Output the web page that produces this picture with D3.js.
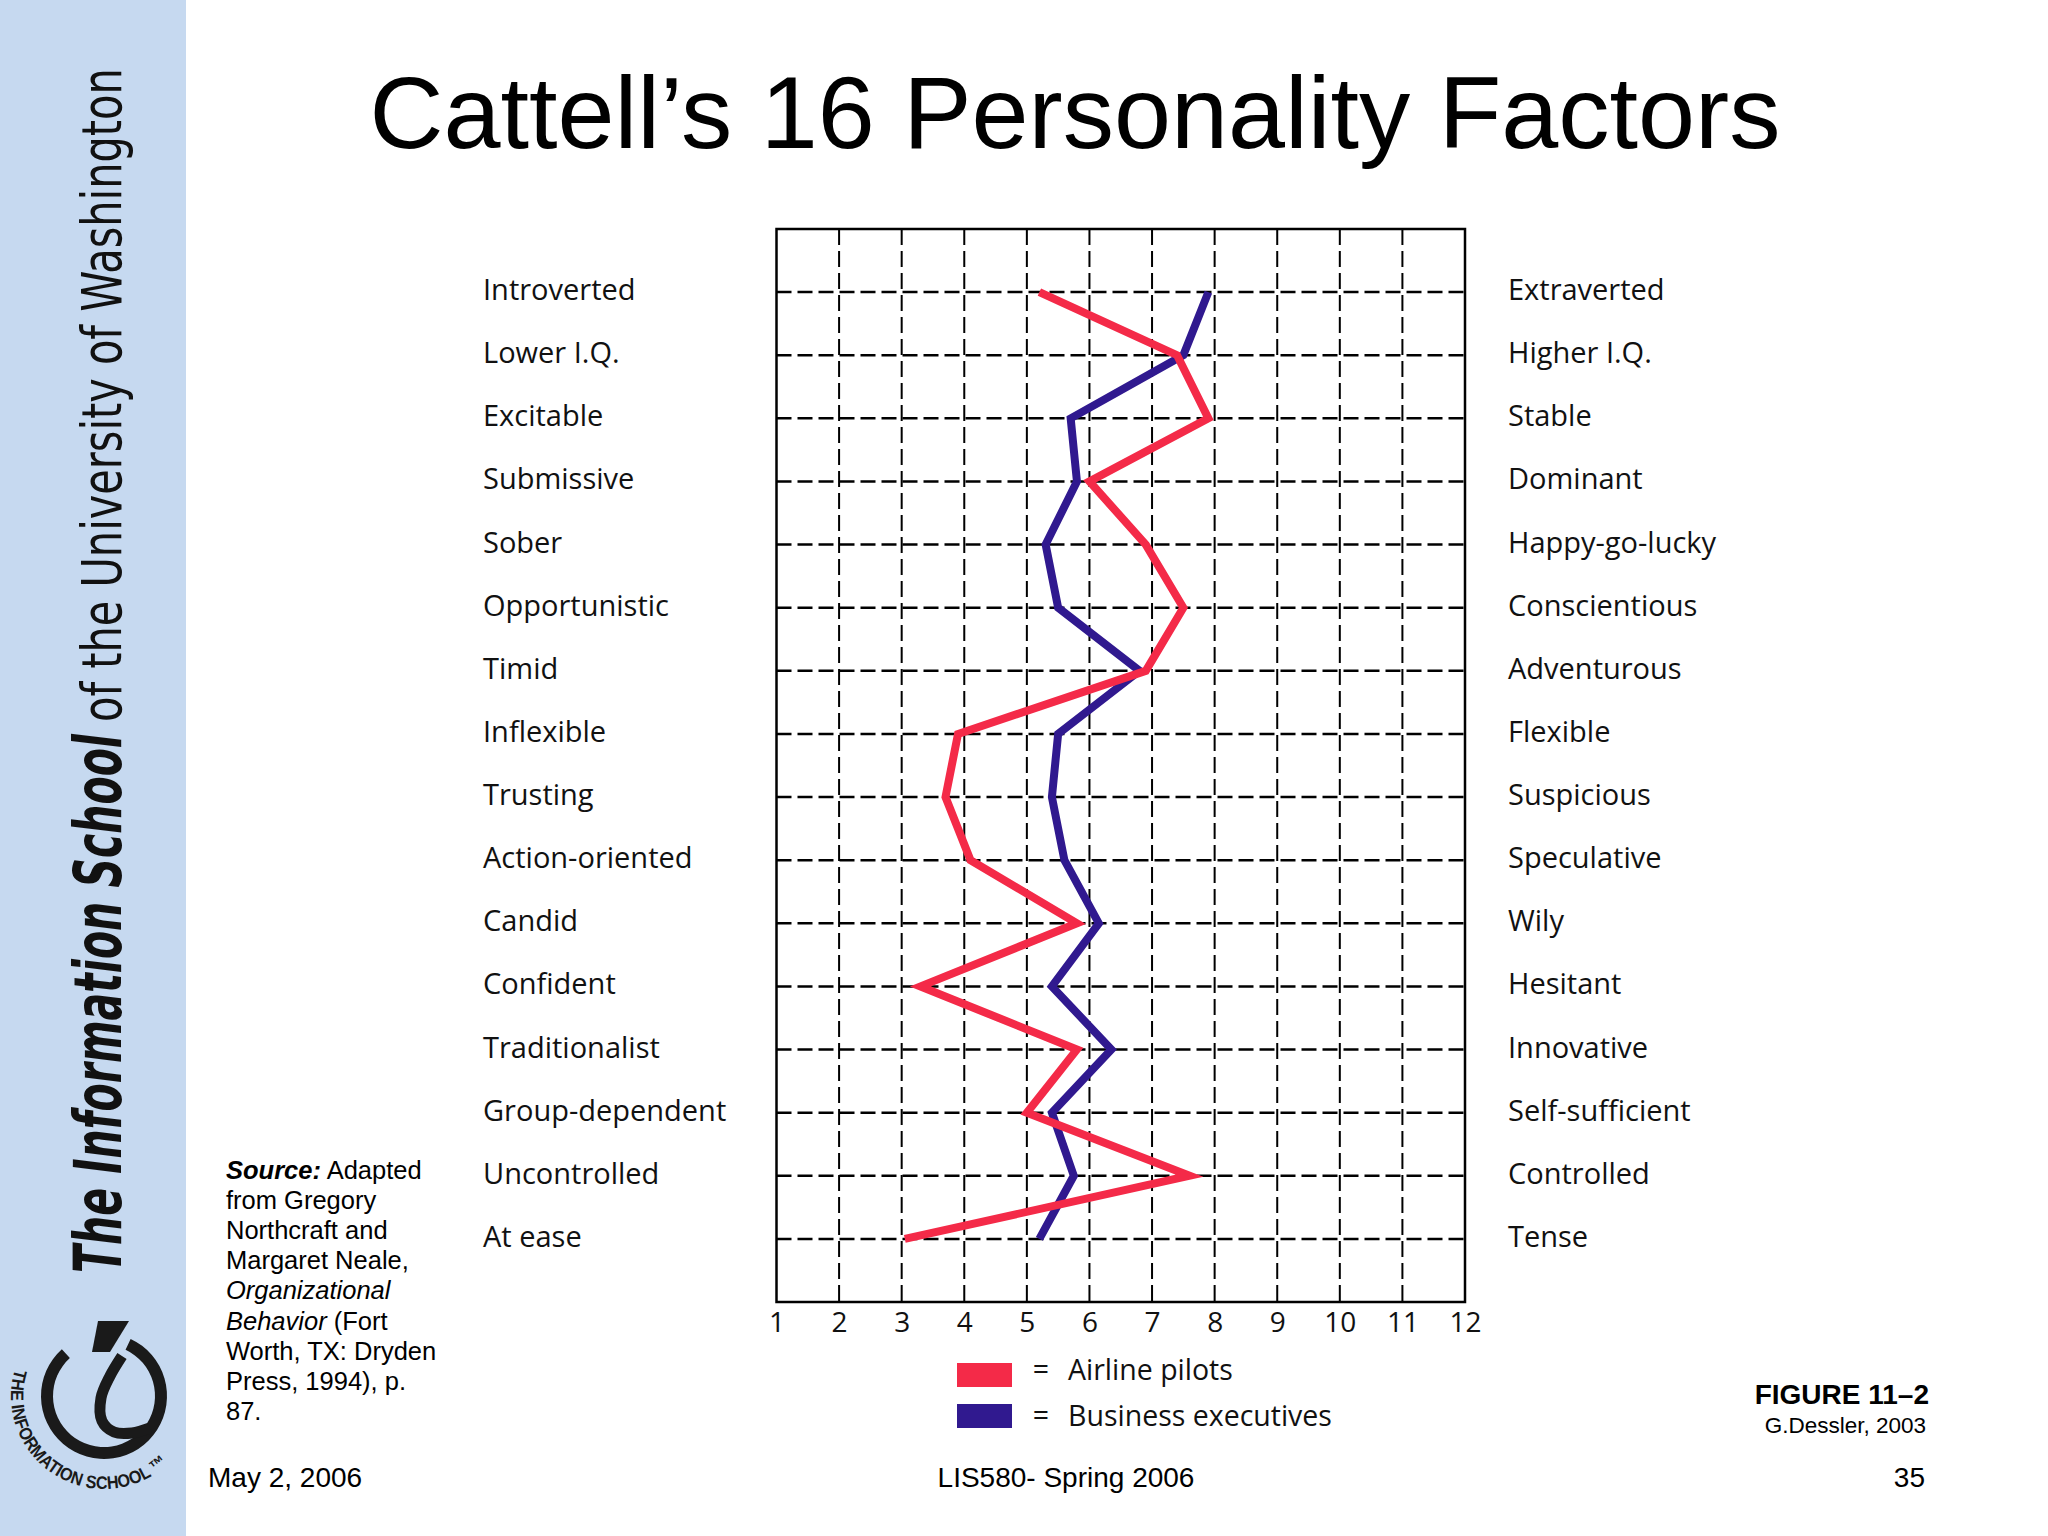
<!DOCTYPE html>
<html>
<head>
<meta charset="utf-8">
<script src="https://cdn.jsdelivr.net/npm/d3@7"></script>
<style>
  html, body { margin: 0; padding: 0; background: #ffffff; }
  svg { display: block; }
</style>
</head>
<body>
<script>
// ---------------- data ----------------
const leftLabels = ["Introverted","Lower I.Q.","Excitable","Submissive","Sober","Opportunistic","Timid","Inflexible","Trusting","Action-oriented","Candid","Confident","Traditionalist","Group-dependent","Uncontrolled","At ease"];
const rightLabels = ["Extraverted","Higher I.Q.","Stable","Dominant","Happy-go-lucky","Conscientious","Adventurous","Flexible","Suspicious","Speculative","Wily","Hesitant","Innovative","Self-sufficient","Controlled","Tense"];
const airlinePilots      = [5.2, 7.4, 7.9, 6.0, 6.9, 7.5, 6.9, 3.9, 3.7, 4.1, 5.8, 3.3, 5.8, 5.0, 7.6, 3.05];
const businessExecutives = [7.9, 7.5, 5.7, 5.8, 5.3, 5.5, 6.8, 5.5, 5.4, 5.6, 6.15, 5.4, 6.35, 5.4, 5.75, 5.2];
const xTicks = [1,2,3,4,5,6,7,8,9,10,11,12];
const seriesNames = ["Airline pilots", "Business executives"];
const seriesColors = ["#f42a48", "#30198f"];
const sourceLines = [
  [["Source:", "bi"], [" Adapted", "n"]],
  [["from Gregory", "n"]],
  [["Northcraft and", "n"]],
  [["Margaret Neale,", "n"]],
  [["Organizational", "i"]],
  [["Behavior", "i"], [" (Fort", "n"]],
  [["Worth, TX: Dryden", "n"]],
  [["Press, 1994), p.", "n"]],
  [["87.", "n"]]
];

// ---------------- setup ----------------
const W = 2048, H = 1536;
const svg = d3.select("body").append("svg").attr("width", W).attr("height", H);
svg.append("rect").attr("width", W).attr("height", H).attr("fill", "#ffffff");

const sansUI = "'Open Sans', 'Noto Sans', 'DejaVu Sans', sans-serif";
const arial = "'Liberation Sans', Arial, sans-serif";
const narrow = "'Liberation Sans Narrow', 'DejaVu Sans Condensed', 'Liberation Sans', sans-serif";

// ---------------- sidebar ----------------
svg.append("rect").attr("x", 0).attr("y", 0).attr("width", 186).attr("height", H).attr("fill", "#c6d9f0");

function sideText(str, x0, y0, len, size, bold) {
  const t = svg.append("text")
    .attr("font-family", narrow)
    .attr("font-size", size)
    .attr("fill", "#111")
    .text(str);
  if (bold) t.attr("font-weight", "bold").attr("font-style", "italic");
  const natural = t.node().getComputedTextLength() || len;
  const sx = len / natural;
  t.attr("transform", `translate(${x0},${y0}) rotate(-90) scale(${sx},1)`);
}
sideText("The Information School", 121, 1273, 539, 65, true);
sideText("of the University of Washington", 121, 722, 654, 55, false);

// logo
const lc = {x: 104, y: 1396};
const logo = svg.append("g").attr("transform", `translate(${lc.x},${lc.y})`);
logo.append("path")
  .attr("d", d3.arc()({innerRadius: 51, outerRadius: 63, startAngle: 25 * Math.PI / 180, endAngle: 318 * Math.PI / 180}))
  .attr("fill", "#1a1a1a");
logo.append("path")
  .attr("d", "M -6,-75 L 25,-75 L 6,-44 L -12,-44 Z")
  .attr("fill", "#1a1a1a");
logo.append("path")
  .attr("d", d3.line().curve(d3.curveCatmullRom)([[18,-40],[6,-20],[-3,2],[-2,25],[10,36],[28,37],[46,32]]))
  .attr("fill", "none").attr("stroke", "#1a1a1a").attr("stroke-width", 11);
const rT = 93;
const a0 = 197 * Math.PI / 180, a1 = 45 * Math.PI / 180;
svg.append("defs").append("path").attr("id", "logoArc")
  .attr("d", `M ${lc.x + rT * Math.cos(a0)},${lc.y + rT * Math.sin(a0)} A ${rT},${rT} 0 0 0 ${lc.x + rT * Math.cos(a1)},${lc.y + rT * Math.sin(a1)}`);
svg.append("text")
  .attr("font-family", arial).attr("font-size", 18).attr("font-weight", "bold").attr("fill", "#1a1a1a")
  .append("textPath").attr("href", "#logoArc")
  .attr("textLength", 244).attr("lengthAdjust", "spacingAndGlyphs")
  .text("THE INFORMATION SCHOOL \u2122");

// ---------------- title ----------------
svg.append("text")
  .attr("x", 1075).attr("y", 148)
  .attr("text-anchor", "middle")
  .attr("font-family", arial).attr("font-size", 102.5).attr("fill", "#000")
  .text("Cattell\u2019s 16 Personality Factors");

// ---------------- chart ----------------
const yTop = 229, yBottom = 1302;
const x = d3.scaleLinear().domain([1, 12]).range([776.5, 1465]);
const y = d3.scalePoint().domain(leftLabels).range([yTop, yBottom]).padding(1);

const chart = svg.append("g");

// horizontal dashed lines
chart.selectAll("line.h").data(leftLabels).join("line").attr("class", "h")
  .attr("x1", x(1)).attr("x2", x(12))
  .attr("y1", d => y(d)).attr("y2", d => y(d))
  .attr("stroke", "#000").attr("stroke-width", 2.5).attr("stroke-dasharray", "15,6");

// vertical dashed lines
chart.selectAll("line.v").data(xTicks.slice(1, -1)).join("line").attr("class", "v")
  .attr("x1", d => x(d)).attr("x2", d => x(d))
  .attr("y1", yTop).attr("y2", yBottom)
  .attr("stroke", "#000").attr("stroke-width", 2).attr("stroke-dasharray", "16,6");

// frame
chart.append("rect")
  .attr("x", x(1)).attr("y", yTop).attr("width", x(12) - x(1)).attr("height", yBottom - yTop)
  .attr("fill", "none").attr("stroke", "#000").attr("stroke-width", 2.5);

// axis labels
const axis = chart.append("g").attr("transform", `translate(0,${yBottom})`)
  .call(d3.axisBottom(x).tickValues(xTicks).tickSize(0).tickPadding(10).tickFormat(d3.format("d")));
axis.select(".domain").remove();
axis.selectAll("text").attr("font-family", sansUI).attr("font-size", 28).attr("fill", "#111");

// series lines
const lineGen = d3.line().x(d => x(d.v)).y(d => y(d.label));
const seriesData = [airlinePilots, businessExecutives].map(vals => vals.map((v, i) => ({label: leftLabels[i], v})));
[1, 0].forEach(si => {
  chart.append("path")
    .datum(seriesData[si])
    .attr("d", lineGen)
    .attr("fill", "none")
    .attr("stroke", seriesColors[si])
    .attr("stroke-width", 8)
    .attr("stroke-linejoin", "miter");
});

// labels
chart.selectAll("text.l").data(leftLabels).join("text").attr("class", "l")
  .attr("x", 483).attr("y", d => y(d) + 8)
  .attr("font-family", sansUI).attr("font-size", 29).attr("fill", "#111")
  .text(d => d);
chart.selectAll("text.r").data(rightLabels).join("text").attr("class", "r")
  .attr("x", 1508).attr("y", (d, i) => y(leftLabels[i]) + 8)
  .attr("font-family", sansUI).attr("font-size", 29).attr("fill", "#111")
  .text(d => d);

// legend
const legend = svg.append("g");
const legY = d3.scalePoint().domain(seriesNames).range([1375, 1416]);
const legTextY = d3.scalePoint().domain(seriesNames).range([1380, 1426]);
legend.selectAll("rect").data(seriesNames).join("rect")
  .attr("x", 957).attr("y", d => legY(d) - 12).attr("width", 55).attr("height", 24)
  .attr("fill", (d, i) => seriesColors[i]);
legend.selectAll("text.eq").data(seriesNames).join("text").attr("class", "eq")
  .attr("x", 1041).attr("y", d => legTextY(d) - 1).attr("text-anchor", "middle")
  .attr("font-family", sansUI).attr("font-size", 28.5).attr("fill", "#111")
  .text("=");
legend.selectAll("text.nm").data(seriesNames).join("text").attr("class", "nm")
  .attr("x", 1068).attr("y", d => legTextY(d))
  .attr("font-family", sansUI).attr("font-size", 28.5).attr("fill", "#111")
  .text(d => d);

// ---------------- source note ----------------
const src = svg.append("text").attr("font-family", arial).attr("font-size", 25.5).attr("fill", "#000");
sourceLines.forEach((parts, li) => {
  parts.forEach((p, pi) => {
    const ts = src.append("tspan").text(p[0]);
    if (pi === 0) ts.attr("x", 226).attr("y", 1179 + li * 30.1);
    if (p[1] === "bi") ts.attr("font-weight", "bold").attr("font-style", "italic");
    if (p[1] === "i") ts.attr("font-style", "italic");
  });
});

// ---------------- figure credit & footer ----------------
svg.append("text").attr("x", 1929).attr("y", 1404).attr("text-anchor", "end")
  .attr("font-family", arial).attr("font-size", 28).attr("font-weight", "bold").text("FIGURE 11\u20132");
svg.append("text").attr("x", 1926).attr("y", 1433).attr("text-anchor", "end")
  .attr("font-family", arial).attr("font-size", 22.5).text("G.Dessler, 2003");

svg.append("text").attr("x", 208).attr("y", 1487)
  .attr("font-family", arial).attr("font-size", 28).text("May 2, 2006");
svg.append("text").attr("x", 1066).attr("y", 1487).attr("text-anchor", "middle")
  .attr("font-family", arial).attr("font-size", 28).text("LIS580- Spring 2006");
svg.append("text").attr("x", 1925).attr("y", 1487).attr("text-anchor", "end")
  .attr("font-family", arial).attr("font-size", 28).text("35");
</script>
</body>
</html>
